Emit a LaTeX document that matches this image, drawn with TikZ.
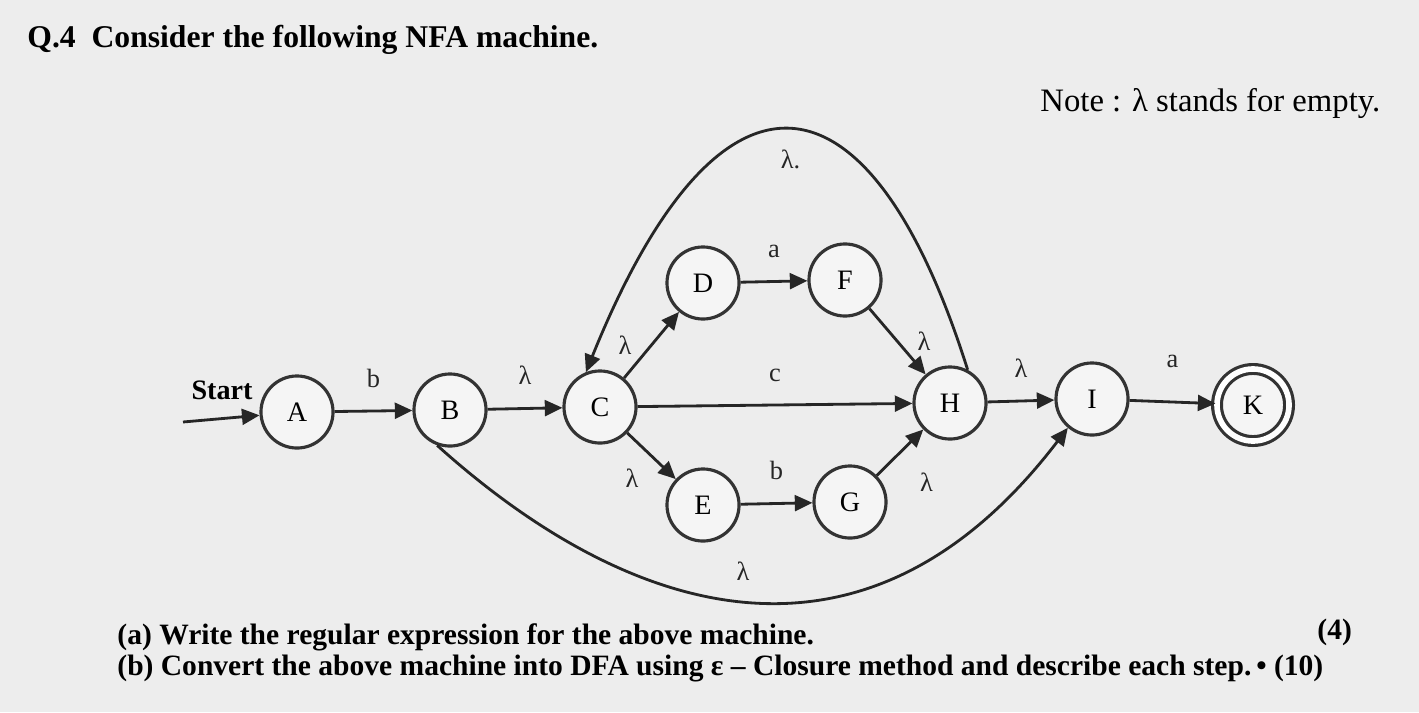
\documentclass[tikz,border=0pt]{standalone}
\usepackage{fontspec}
\setmainfont{Liberation Serif}
\usetikzlibrary{arrows.meta}
\begin{document}
\begin{tikzpicture}[x=0.01cm,y=-0.01cm,
  st/.style={circle,draw=black!80,fill=black!4,line width=0.9pt,minimum size=0.72cm,inner sep=0pt,font=\fontsize{8}{9}\selectfont},
  acc/.style={st,double,double distance=1.6pt},
  ed/.style={-{Triangle[length=5pt,width=4.5pt]},line width=0.8pt,black!85},
  lb/.style={font=\fontsize{7.5}{9}\selectfont},
  tx/.style={anchor=west,font=\fontsize{8.4}{10}\selectfont\bfseries}]
\fill[black!7] (0,0) rectangle (1419,712);
\useasboundingbox (0,0) rectangle (1419,712);
\node[anchor=west,font=\fontsize{9}{11}\selectfont\bfseries] (t) at (15,40) {Q.4\ \ Consider the following NFA machine.};
\node[anchor=west,font=\fontsize{9.3}{11}\selectfont] (n) at (1028,104) {Note : λ stands for empty.};
\node[st] (A) at (297,412) {A};
\node[st] (B) at (450,410) {B};
\node[st] (C) at (600,407) {C};
\node[st] (D) at (703,283) {D};
\node[st] (F) at (845,280) {F};
\node[st] (H) at (950,403) {H};
\node[st] (I) at (1092,399) {I};
\node[acc] (K) at (1253,405) {K};
\node[st] (E) at (703,505) {E};
\node[st] (G) at (850,502) {G};
\node[lb,font=\fontsize{8}{9}\selectfont\bfseries] (s) at (222,390) {Start};
\coordinate (s0) at (183,422);
\draw[ed] (s0) -- (A);
\draw[ed] (A) -- node[lb,above=3pt]{b} (B);
\draw[ed] (B) -- node[lb,above=3pt]{λ} (C);
\draw[ed] (C) -- node[lb,left=2pt]{λ} (D);
\draw[ed] (D) -- node[lb,above=3pt]{a} (F);
\draw[ed] (F) -- node[lb,right=2pt]{λ} (H);
\draw[ed] (C) -- node[lb,above=3pt]{c} (H);
\draw[ed] (C) -- node[lb,below left=0pt]{λ} (E);
\draw[ed] (E) -- node[lb,above=3pt]{b} (G);
\draw[ed] (G) -- node[lb,below right=2pt]{λ} (H);
\draw[ed] (H) -- node[lb,above=3pt]{λ} (I);
\draw[ed] (I) -- node[lb,above=6pt]{a} (K);
\draw[ed] (H.62) .. controls (870,60) and (720,40) .. node[lb,pos=0.5,below=2pt]{λ.} (C.112);
\draw[ed] (B.250) .. controls (620,610) and (860,700) .. node[lb,pos=0.5,above=2pt]{λ} (I.230);
\node[tx] (qa) at (105,637) {(a) Write the regular expression for the above machine.};
\node[tx] (m) at (1305,632) {(4)};
\node[tx] (qb) at (105,668) {(b) Convert the above machine into DFA using ε – Closure method and describe each step.\,• (10)};
\end{tikzpicture}
\end{document}
